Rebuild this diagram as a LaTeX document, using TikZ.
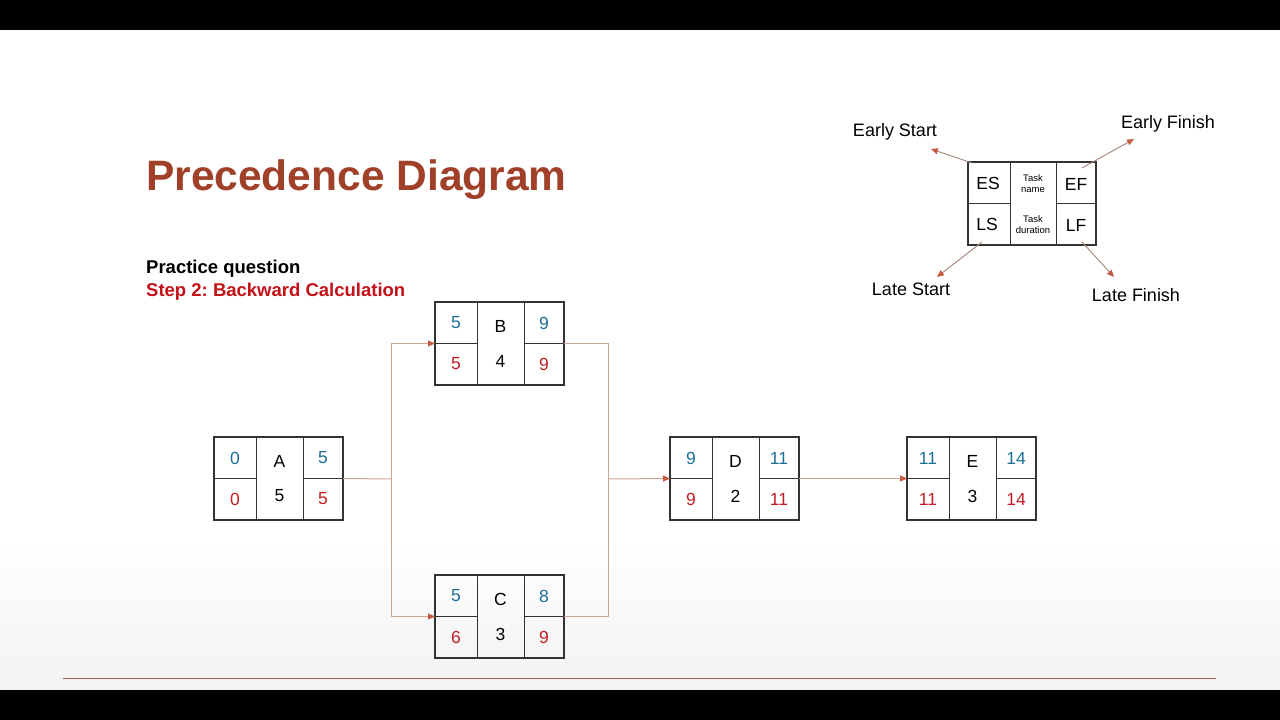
\documentclass[tikz,border=0pt]{standalone}
\usepackage{fontspec}
\setmainfont{Liberation Sans}
\usetikzlibrary{positioning,arrows.meta,calc}
\frenchspacing
\definecolor{titlebrown}{RGB}{160,64,40}
\definecolor{stepred}{RGB}{196,18,24}
\definecolor{esblue}{RGB}{28,110,150}
\definecolor{lsred}{RGB}{192,28,34}
\definecolor{linkbrown}{RGB}{205,165,150}
\definecolor{tipred}{RGB}{196,90,66}
\definecolor{rulebrown}{RGB}{165,95,75}

% one activity box: name, top-left corner, label, duration, ES, EF, LS, LF
\newcommand{\taskbox}[8]{%
  \begin{scope}[shift={(#2)}]
    \node[taskbox] (#1) at (64.5,41.5) {};
    \draw[cell] (42,0) -- (42,83) (89,0) -- (89,83)
                (0,41.5) -- (42,41.5) (89,41.5) -- (129,41.5);
    \node[num, text=esblue] (#1-es) at (21,21) {#5};
    \node[num] (#1-name) at (65.5,24) {#3};
    \node[num, text=esblue] (#1-ef) at (109,21) {#6};
    \node[num, text=lsred] (#1-ls) at (21,62) {#7};
    \node[num] (#1-dur) at (65.5,59) {#4};
    \node[num, text=lsred] (#1-lf) at (109,62) {#8};
  \end{scope}}

\begin{document}
\begin{tikzpicture}[
  x=1pt, y=-1pt,
  taskbox/.style={rectangle, draw=black!80, line width=1.2pt, minimum width=129pt,
                  minimum height=83pt, inner sep=0pt, outer sep=0pt},
  cell/.style={draw=black!80, line width=0.9pt},
  num/.style={font=\fontsize{17.5}{20}\selectfont, inner sep=0pt},
  small/.style={font=\fontsize{9.5}{11}\selectfont, align=center, inner sep=0pt},
  link/.style={draw=linkbrown, line width=1pt},
  arrow/.style={link, -{Triangle[length=7pt, width=6pt, color=tipred]}},
  keyarrow/.style={draw=linkbrown!80!black, line width=0.9pt, -{Triangle[length=7pt, width=6pt, color=tipred]}},
  keylabel/.style={font=\fontsize{18}{21}\selectfont, inner sep=0pt}
]
  % page
  \useasboundingbox (0,0) rectangle (1280,720);
  \fill[white] (0,30) rectangle (1280,690);
  \shade[top color=white, bottom color=black!5] (0,540) rectangle (1280,690);
  \fill[black] (0,0) rectangle (1280,30);
  \fill[black] (0,690) rectangle (1280,720);
  \draw[rulebrown, line width=1pt] (63,678) -- (1216,678);

  % headings
  \node[anchor=base west, inner sep=0pt, text=titlebrown,
        font=\fontsize{42.5}{50}\selectfont\bfseries] (title) at (146,190) {Precedence Diagram};
  \node[anchor=base west, inner sep=0pt, font=\fontsize{18.5}{22}\selectfont\bfseries]
        (question) at (146,273) {Practice question};
  \node[anchor=base west, inner sep=0pt, text=stepred, font=\fontsize{18.5}{22}\selectfont\bfseries]
        (step) at (146,296) {Step 2: Backward Calculation};

  % activities
  \taskbox{A}{214,437}{A}{5}{0}{5}{0}{5}
  \taskbox{B}{435,302}{B}{4}{5}{9}{5}{9}
  \taskbox{C}{435,575}{C}{3}{5}{8}{6}{9}
  \taskbox{D}{670,437}{D}{2}{9}{11}{9}{11}
  \taskbox{E}{907,437}{E}{3}{11}{14}{11}{14}

  \coordinate (fork) at (391,479);
  \coordinate (join) at (608,479);
  \draw[link] (A.east) -- (fork);
  \draw[arrow] (fork) |- (B.west);
  \draw[arrow] (fork) |- (C.west);
  \draw[link] (B.east) -| (join);
  \draw[link] (C.east) -| (join);
  \draw[arrow] (join) -- (D.west);
  \draw[arrow] (D.east) -- (E.west);

  % key
  \begin{scope}[shift={(968,162)}]
    \node[taskbox, minimum width=128pt] (key) at (64,41.5) {};
    \draw[cell] (42,0) -- (42,83) (88,0) -- (88,83)
                (0,41.5) -- (42,41.5) (88,41.5) -- (128,41.5);
    \node[num] (key-es) at (20,21) {ES};
    \node[small] (key-name) at (65,22) {Task\\name};
    \node[num] (key-ef) at (108,22) {EF};
    \node[num] (key-ls) at (19,62) {LS};
    \node[small] (key-dur) at (65,63) {Task\\duration};
    \node[num] (key-lf) at (108,63) {LF};
  \end{scope}
  \node[keylabel] (early-start) at (895,132) {Early Start};
  \node[keylabel] (early-finish) at (1168,124) {Early Finish};
  \node[keylabel] (late-start) at (911,289) {Late Start};
  \node[keylabel] (late-finish) at (1136,295) {Late Finish};
  \coordinate (es-tip) at (931,149);
  \coordinate (ef-tip) at (1134,139);
  \coordinate (ls-tip) at (937,277);
  \coordinate (lf-tip) at (1114,277);
  \draw[keyarrow] (key.north west) ++(4,1) -- (es-tip);
  \draw[keyarrow] (key.north east) ++(-14,6) -- (ef-tip);
  \draw[keyarrow] (key.south west) ++(14,-3) -- (ls-tip);
  \draw[keyarrow] (key.south east) ++(-14,-3) -- (lf-tip);
\end{tikzpicture}
\end{document}
